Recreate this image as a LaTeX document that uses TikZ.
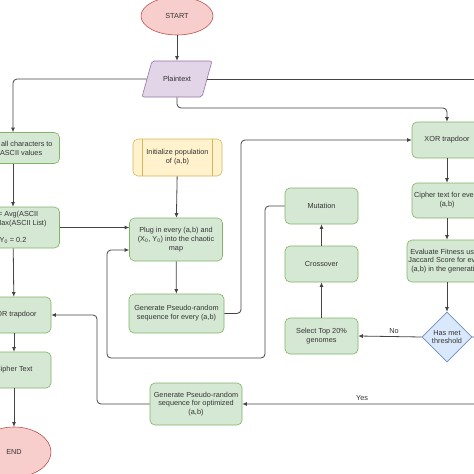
\documentclass[tikz,border=0pt]{standalone}
\usepackage{fontspec}
\setmainfont{Liberation Sans}
\usetikzlibrary{arrows.meta,shapes.geometric,calc}
\definecolor{gfill}{HTML}{D5E8D4}\definecolor{gdraw}{HTML}{82B366}
\definecolor{yfill}{HTML}{FFF2CC}\definecolor{ydraw}{HTML}{D6B656}
\definecolor{rfill}{HTML}{F8CECC}\definecolor{rdraw}{HTML}{B85450}
\definecolor{pfill}{HTML}{E1D5E7}\definecolor{pdraw}{HTML}{9673A6}
\definecolor{bfill}{HTML}{DAE8FC}\definecolor{bdraw}{HTML}{6C8EBF}
\definecolor{txt}{HTML}{333333}
\definecolor{ln}{HTML}{444444}
\tikzset{
  base/.style={font=\fontsize{7.3}{8.8}\selectfont, text=txt, align=center, inner sep=0pt, line width=0.6pt},
  proc/.style={base, rectangle, rounded corners=5pt, draw=gdraw, fill=gfill},
  term/.style={base, ellipse, draw=rdraw, fill=rfill},
  decis/.style={base, diamond, draw=bdraw, fill=bfill, aspect=1},
  initbox/.style={base, rectangle, rounded corners=5pt, draw=ydraw, fill=yfill},
  conn/.style={draw=ln, line width=0.8pt, rounded corners=4pt},
  arr/.style={conn, -{Latex[length=4.5pt,width=4pt]}},
  lbl/.style={font=\fontsize{7.3}{8.8}\selectfont, text=txt, inner sep=0pt}
}
\begin{document}
\begin{tikzpicture}[x=1pt,y=-1pt]
\useasboundingbox (0,0) rectangle (474,474);
\fill[white] (0,0) rectangle (474,474);
\clip (0,0) rectangle (474,474);

% nodes
\node[term, minimum width=72pt, minimum height=38pt] (start) at (177,16) {START};
\draw[draw=pdraw, fill=pfill, line width=0.6pt, rounded corners=2pt] (152,61) -- (212,61) -- (202,97) -- (142,97) -- cycle;
\node[base, minimum width=60pt, minimum height=36pt] (plain) at (177,79) {Plaintext};

\node[proc, minimum width=93pt, minimum height=31pt] (n1) at (13,148) {Convert all characters to\\their ASCII values};
\node[proc, minimum width=93pt, minimum height=41pt] (n2) at (13,227.5) {X\textsubscript{0} = Avg(ASCII\\List)/Max(ASCII List)\\[8.8pt]Y\textsubscript{0} = 0.2};
\node[proc, minimum width=74pt, minimum height=36pt] (xorL) at (14,315) {XOR trapdoor};
\node[proc, minimum width=74pt, minimum height=36pt] (cipL) at (14,370) {Cipher Text};
\node[term, minimum width=74pt, minimum height=50pt] (endN) at (14,452) {END};

\node[initbox, minimum width=89pt, minimum height=37pt] (init) at (177.5,157.5) {Initialize population\\of (a,b)};
\draw[draw=ydraw, line width=0.6pt] ([xshift=10pt]init.north west) -- ([xshift=10pt]init.south west);
\draw[draw=ydraw, line width=0.6pt] ([xshift=-10pt]init.north east) -- ([xshift=-10pt]init.south east);
\node[proc, minimum width=93pt, minimum height=43pt] (plug) at (176,239.5) {Plug in every (a,b) and\\(X\textsubscript{0}, Y\textsubscript{0}) into the chaotic\\map};
\node[proc, minimum width=95pt, minimum height=39pt] (gen1) at (176.5,313.5) {Generate Pseudo-random\\sequence for every (a,b)};
\node[proc, minimum width=92pt, minimum height=42pt] (genopt) at (196,404) {Generate Pseudo-random\\sequence for optimized\\(a,b)};

\node[proc, minimum width=73pt, minimum height=36pt] (mut) at (321.5,206) {Mutation};
\node[proc, minimum width=73pt, minimum height=36pt] (cross) at (321.5,264) {Crossover};
\node[proc, minimum width=73pt, minimum height=36pt] (sel) at (321.5,336) {Select Top 20\%\\genomes};

\node[proc, minimum width=70pt, minimum height=36pt] (xorR) at (447,140) {XOR trapdoor};
\node[proc, minimum width=70pt, minimum height=35pt] (cipR) at (447,200.5) {Cipher text for every\\(a,b)};
\node[proc, minimum width=80pt, minimum height=42pt] (eval) at (447,261) {Evaluate Fitness using\\Jaccard Score for every\\(a,b) in the generation};
\node[decis, minimum width=50pt, minimum height=50pt] (dia) at (447,337) {Has met\\threshold};

% coordinates
\coordinate (pe) at (495,79);
\coordinate (p1) at (447,108);
\coordinate (g1) at (241,140);
\coordinate (m1) at (265,358);
\coordinate (m2) at (107,358);
\coordinate (q1) at (97,404);
\coordinate (y1) at (495,337);

% connectors
\draw[arr] (start) -- (plain.north);
\draw[arr] (plain.west) -| (n1.north);
\draw[conn] (plain.east) -- (pe);
\draw[arr] (plain.south) |- (p1) -- (xorR.north);
\draw[arr] (n1) -- (n2);
\draw[arr] (n2.east) -- (n2.east -| plug.west);
\draw[arr] (n2) -- (xorL);
\draw[arr] (xorL) -- (cipL);
\draw[arr] (cipL) -- (endN);
\draw[arr] (init) -- (plug);
\draw[arr] (plug) -- (gen1);
\draw[arr] (gen1.east) -| (g1) -- (xorR.west);
\draw[arr] (mut.west) -| (m1) -- (m2) |- ($(plug.west)+(0,10.5)$);
\draw[arr] (xorR) -- (cipR);
\draw[arr] (cipR) -- (eval);
\draw[arr] (eval) -- (dia);
\draw[arr] (dia.west) -- (sel.east);
\draw[arr] (sel) -- (cross);
\draw[arr] (cross) -- (mut);
\draw[arr] (dia.east) -- (y1) |- (genopt.east);
\draw[arr] (genopt.west) -- (q1) |- (xorL.east);

\node[lbl] (no) at (394,331) {No};
\node[lbl] (yes) at (362,398) {Yes};
\end{tikzpicture}
\end{document}
